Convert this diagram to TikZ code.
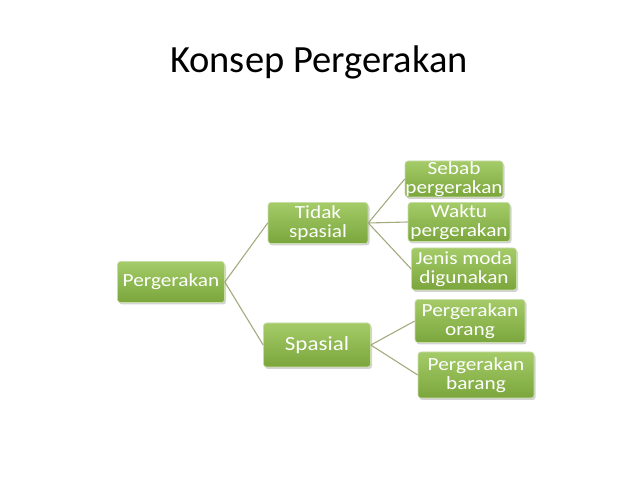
\documentclass[tikz,border=0pt]{standalone}
\usepackage{fontspec}
\setmainfont{Carlito}
\newfontfamily\boxfont[FakeStretch=1.15]{Carlito}
\usetikzlibrary{shadows}
\definecolor{boxtop}{HTML}{A4CB68}
\definecolor{boxbot}{HTML}{7BA63C}
\definecolor{boxline}{HTML}{C9DDA8}
\definecolor{linkc}{HTML}{A3AB7E}
\begin{document}
\begin{tikzpicture}[x=1pt,y=-1pt,
  gbox/.style={draw=boxline, line width=0.6pt, rounded corners=3pt,
    top color=boxtop, bottom color=boxbot, text=white, align=center,
    font=\boxfont\fontsize{18.5}{18.5}\selectfont, inner sep=0pt,
    drop shadow={shadow xshift=1.5pt, shadow yshift=-2pt, opacity=0.35}},
  link/.style={draw=linkc, line width=1.1pt}]
\useasboundingbox (0,0) rectangle (638,478);
\node[font=\fontsize{38.5}{42}\selectfont] (title) at (319,62) {Konsep Pergerakan};
\node[gbox, minimum width=107pt, minimum height=41pt] (p) at (171,282) {Pergerakan};
\node[gbox, minimum width=100pt, minimum height=41pt] (t) at (318,223) {Tidak\\spasial};
\node[gbox, minimum width=107pt, minimum height=44pt] (s) at (317,345) {\fontsize{20}{21}\selectfont Spasial};
\node[gbox, minimum width=98pt, minimum height=36pt] (a) at (454,179) {Sebab\\pergerakan};
\node[gbox, minimum width=102pt, minimum height=39pt] (b) at (459,222) {Waktu\\pergerakan};
\node[gbox, minimum width=105pt, minimum height=42pt] (c) at (464,269) {Jenis moda\\digunakan};
\node[gbox, minimum width=110pt, minimum height=43pt] (d) at (470,321) {Pergerakan\\orang};
\node[gbox, minimum width=116pt, minimum height=46pt] (e) at (476,375) {Pergerakan\\barang};
\draw[link] (p.east) -- (t.west);
\draw[link] (p.east) -- (s.west);
\draw[link] (t.east) -- (a.west);
\draw[link] (t.east) -- (b.west);
\draw[link] (t.east) -- (c.west);
\draw[link] (s.east) -- (d.west);
\draw[link] (s.east) -- (e.west);
\end{tikzpicture}
\end{document}
